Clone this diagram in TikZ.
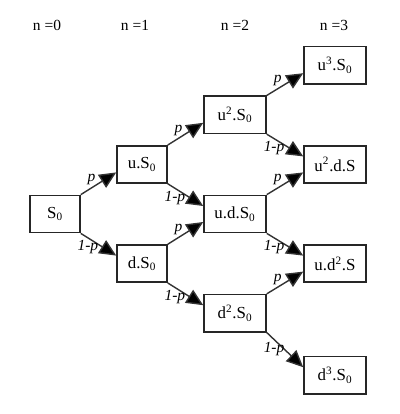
\documentclass[tikz,border=0pt]{standalone}
\usepackage{fontspec}
\setmainfont{Liberation Serif}
\usetikzlibrary{
arrows.meta,
positioning
}

\begin{document}
\begin{tikzpicture}[
    box/.style={shape=rectangle,draw=black!85,line width=1.1pt,minimum width=12.5mm,minimum height=9.3mm,inner sep=0pt,font=\fontsize{12}{14}\selectfont},
    wide/.style={box,minimum width=15.5mm},
    move/.style={-{Triangle[length=4.2mm,width=3.8mm,fill=black]},line width=1pt,draw=black!80},
    prob/.style={font=\fontsize{11}{13}\selectfont\itshape,inner sep=1.5pt},
    stage/.style={font=\fontsize{11}{13}\selectfont},
    on grid]
    \useasboundingbox (0,0) rectangle (100mm,-103.5mm);
    \node [stage] (n0) at (11.75mm,-6.25mm) {n =0};
    \node [stage] (n1) at (33.75mm,-6.25mm) {n =1};
    \node [stage] (n2) at (58.75mm,-6.25mm) {n =2};
    \node [stage] (n3) at (83.5mm,-6.25mm) {n =3};
    \node [box] (s) at (13.75mm,-53.5mm) {S\textsubscript{0}};
    \node [box, above right = 12.4mm and 21.75mm of s] (u) {u.S\textsubscript{0}};
    \node [box, below right = 12.4mm and 21.75mm of s] (d) {d.S\textsubscript{0}};
    \node [wide, above right = 12.4mm and 23.25mm of u] (uu) {u\textsuperscript{2}.S\textsubscript{0}};
    \node [wide, below right = 12.4mm and 23.25mm of u] (ud) {u.d.S\textsubscript{0}};
    \node [wide, below right = 12.4mm and 23.25mm of d] (dd) {d\textsuperscript{2}.S\textsubscript{0}};
    \node [wide, above right = 12.4mm and 25mm of uu] (uuu) {u\textsuperscript{3}.S\textsubscript{0}};
    \node [wide, below right = 12.4mm and 25mm of uu] (uud) {u\textsuperscript{2}.d.S};
    \node [wide, below right = 12.4mm and 25mm of ud] (udd) {u.d\textsuperscript{2}.S};
    \node [wide, below right = 15.5mm and 25mm of dd] (ddd) {d\textsuperscript{3}.S\textsubscript{0}};
    \draw[move] (s.north east) to node [prob, pos=0.3, above] {p} ([yshift=-2mm] u.west);
    \draw[move] (s.south east) to node [prob, pos=0.2, below] {1-p} ([yshift=2mm] d.west);
    \draw[move] (u.north east) to node [prob, pos=0.3, above] {p} ([yshift=-2mm] uu.west);
    \draw[move] (u.south east) to node [prob, pos=0.2, below] {1-p} ([yshift=2mm] ud.west);
    \draw[move] (d.north east) to node [prob, pos=0.3, above] {p} ([yshift=-2mm] ud.west);
    \draw[move] (d.south east) to node [prob, pos=0.2, below] {1-p} ([yshift=2mm] dd.west);
    \draw[move] (uu.north east) to node [prob, pos=0.3, above] {p} ([yshift=-2mm] uuu.west);
    \draw[move] (uu.south east) to node [prob, pos=0.2, below] {1-p} ([yshift=2mm] uud.west);
    \draw[move] (ud.north east) to node [prob, pos=0.3, above] {p} ([yshift=-2mm] uud.west);
    \draw[move] (ud.south east) to node [prob, pos=0.2, below] {1-p} ([yshift=2mm] udd.west);
    \draw[move] (dd.north east) to node [prob, pos=0.3, above] {p} ([yshift=-2mm] udd.west);
    \draw[move] (dd.south east) to node [prob, pos=0.2, below] {1-p} ([yshift=2mm] ddd.west);
  \end{tikzpicture}
\end{document}
